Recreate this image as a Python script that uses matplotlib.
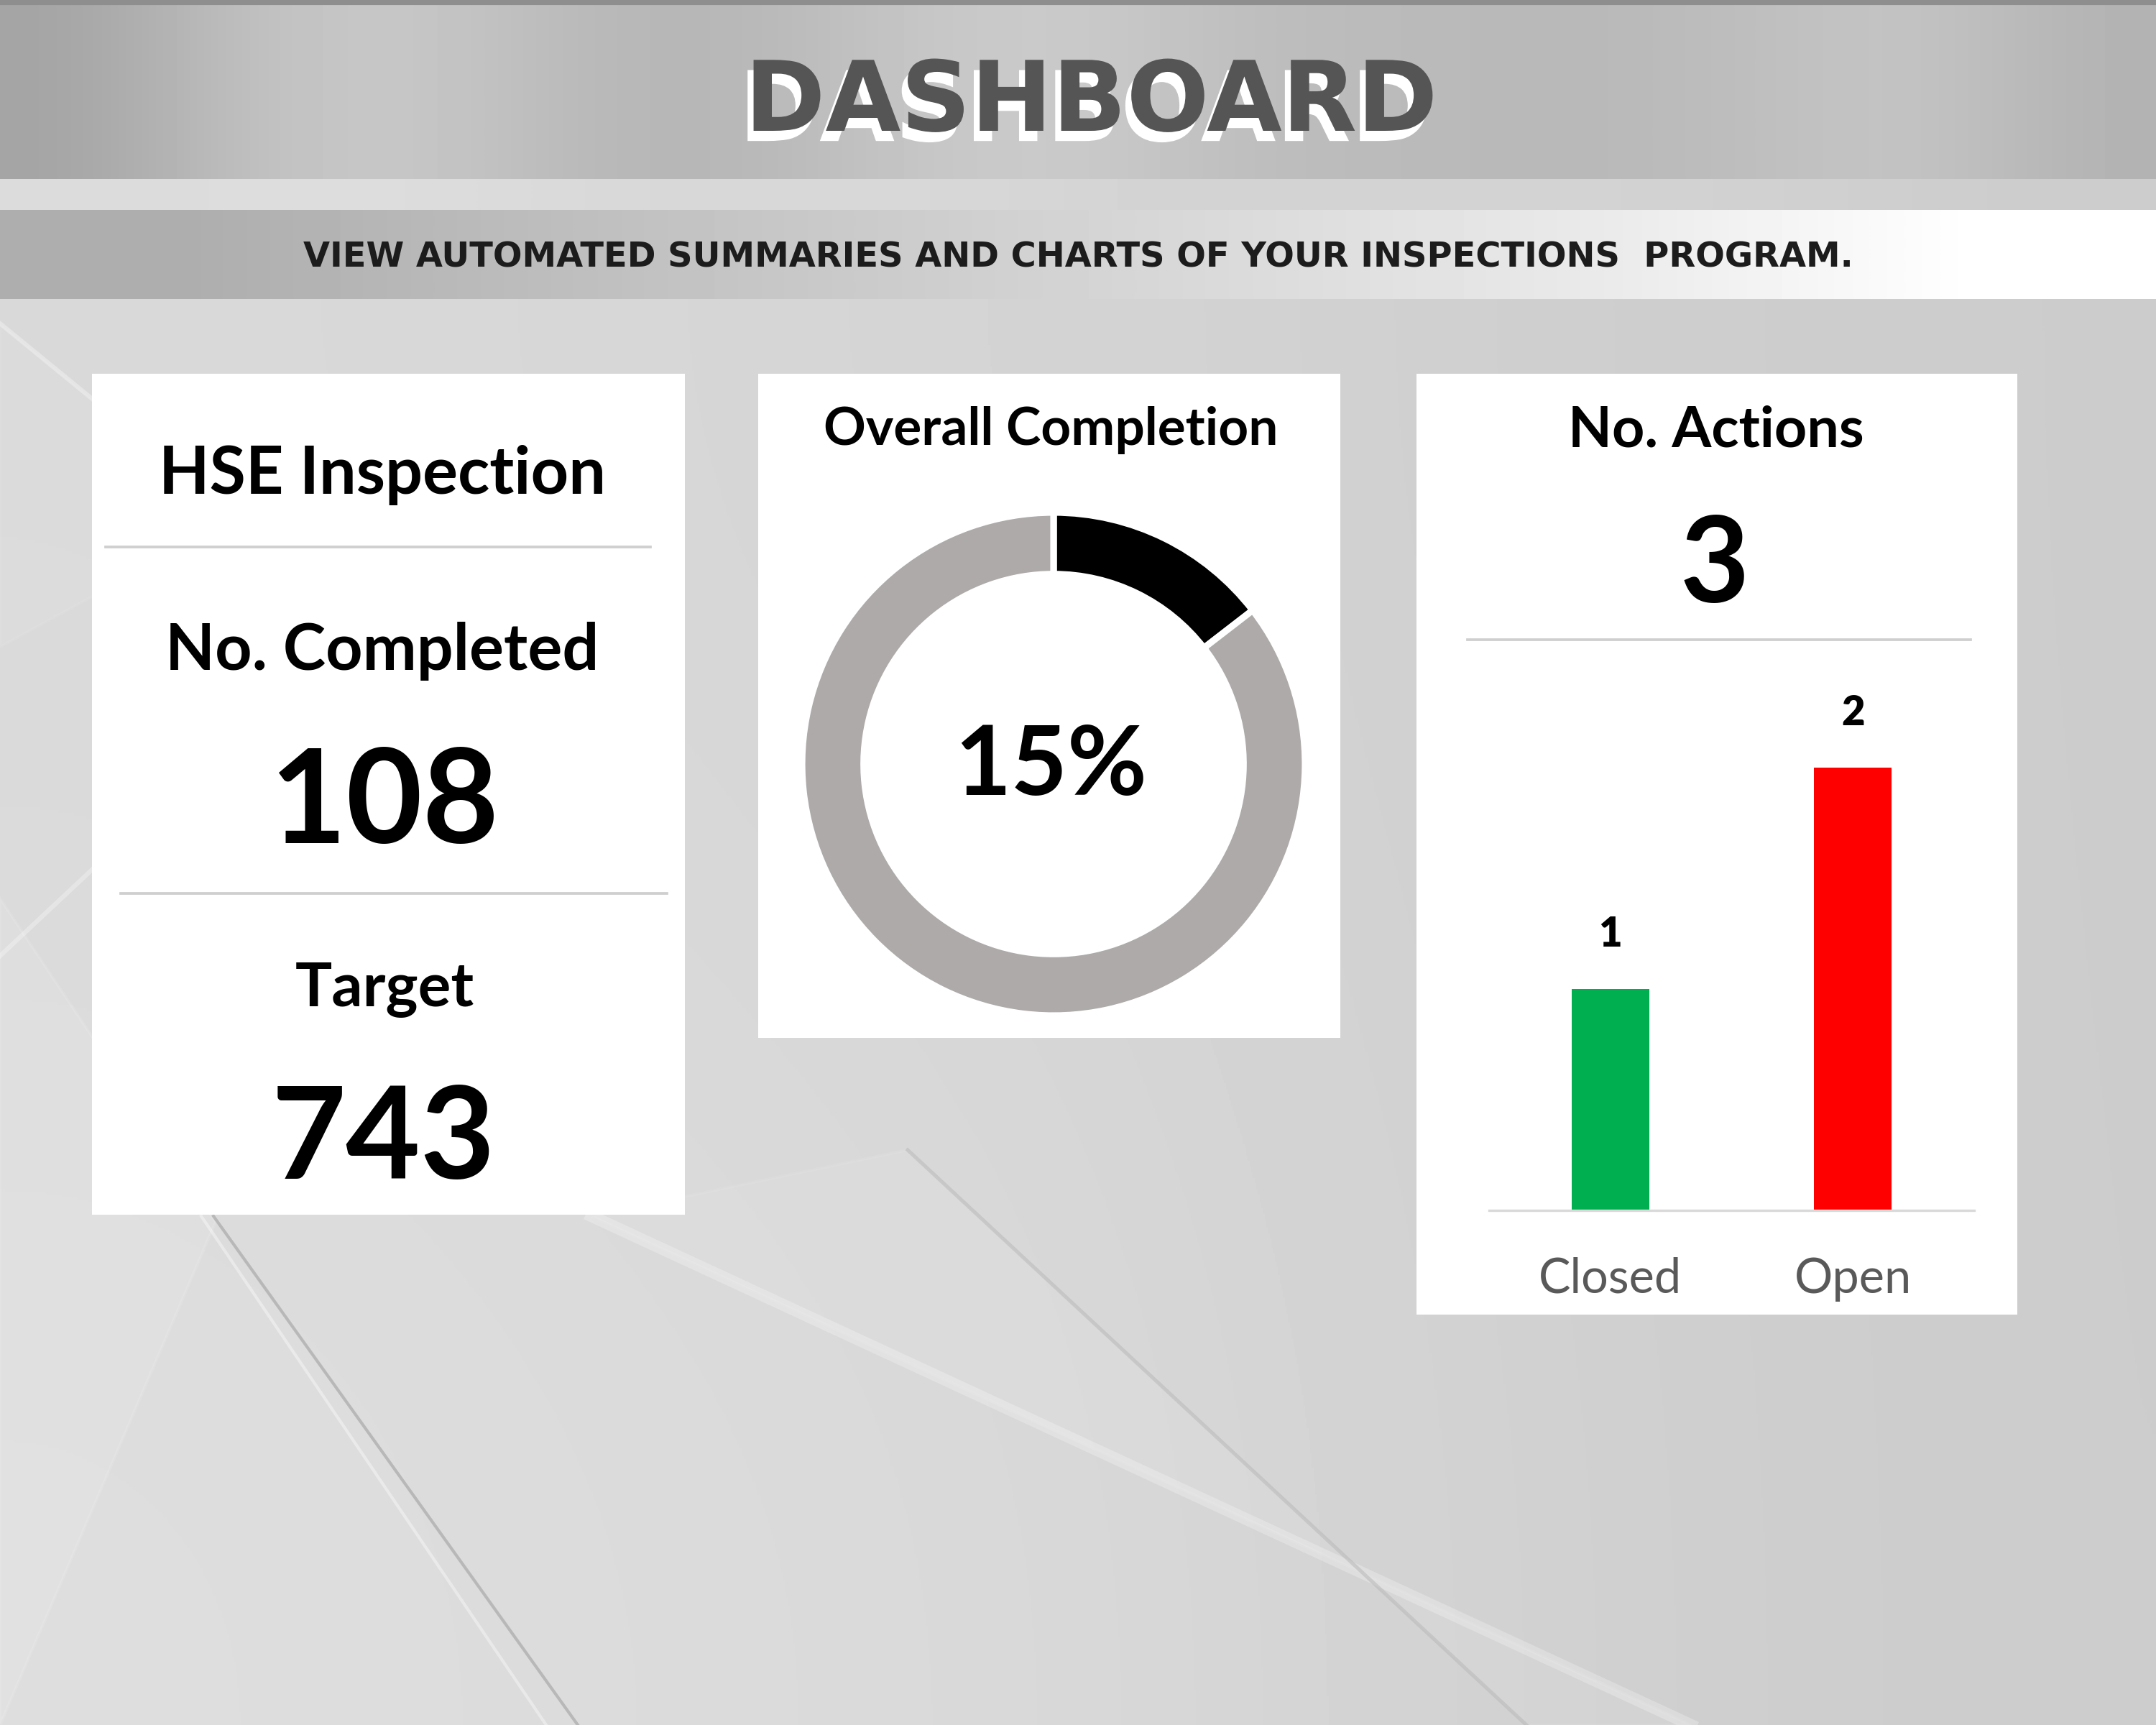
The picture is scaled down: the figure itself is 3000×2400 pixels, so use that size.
import os

os.environ.setdefault("MPLBACKEND", "Agg")

import numpy as np
import matplotlib.pyplot as plt
import matplotlib.patheffects as pe
from matplotlib.patches import Rectangle

# canvas in pixels (figure is 10x8 in at 300 dpi)
W, H = 3000, 2400

# ---- data -------------------------------------------------------------
title = "DASHBOARD"
subtitle = "VIEW AUTOMATED SUMMARIES AND CHARTS OF YOUR INSPECTIONS  PROGRAM."
kpi_heading = "HSE Inspection"
completed_label = "No. Completed"
target_label = "Target"
completed = 108
target = 743
donut_title = "Overall Completion"
actions_title = "No. Actions"
action_status = ["Closed", "Open"]
action_counts = [1, 2]
action_colors = ["#00B050", "#FF0000"]

# ---- style ------------------------------------------------------------
PANEL_FONT = ["Lato", "DejaVu Sans"]
HEAD_FONT = ["DejaVu Sans"]
DONUT_DONE = "#000000"
DONUT_REST = "#AEAAAA"
RULE = "#cfcfcf"


def px_axes(fig, x0, y0, x1, y1):
    """Axes placed by pixel box (top-left origin)."""
    return fig.add_axes([x0 / W, 1 - y1 / H, (x1 - x0) / W, (y1 - y0) / H])


fig = plt.figure(figsize=(10, 8), dpi=300)
bg = fig.add_axes([0, 0, 1, 1])
bg.set_xlim(0, W)
bg.set_ylim(H, 0)
bg.set_axis_off()

# ---- background -------------------------------------------------------
# main area: soft grey, slightly darker to the right
bg.imshow([[0.85, 0.84, 0.83, 0.81, 0.80], [0.87, 0.86, 0.85, 0.82, 0.80]], cmap="gray",
          vmin=0, vmax=1, extent=(0, W, H, 416), aspect="auto",
          interpolation="bicubic", zorder=0)
# faint diagonal sheets
bg.fill([0, 300, 0], [1250, 1700, 2400], color="white", alpha=0.10, zorder=0.5)
bg.fill([823, 1263, 2124, 2353], [1692, 1600, 2400, 2400], color="white", alpha=0.08, zorder=0.5)
bg.fill([0, 330, 0], [450, 720, 900], color="white", alpha=0.06, zorder=0.5)
bg.plot([297, 804], [1692, 2400], color="#a9a9a9", lw=1.0, alpha=0.7, zorder=0.6)
bg.plot([280, 760], [1692, 2400], color="white", lw=1.0, alpha=0.4, zorder=0.6)
bg.plot([823, 2353], [1692, 2400], color="white", lw=4, alpha=0.25, zorder=0.6)
bg.plot([1263, 2124], [1600, 2400], color="#b4b4b4", lw=1.2, alpha=0.5, zorder=0.6)
bg.plot([0, 330], [450, 720], color="white", lw=1.5, alpha=0.3, zorder=0.6)
bg.plot([0, 128], [1330, 1210], color="white", lw=1.5, alpha=0.3, zorder=0.6)

# top band with soft vertical streaks
bg.imshow([[0.64, 0.76, 0.79, 0.72, 0.71, 0.78, 0.80, 0.74, 0.73, 0.72, 0.74, 0.78, 0.70]],
          cmap="gray", vmin=0, vmax=1, extent=(0, W, 249, 0), aspect="auto",
          interpolation="bicubic", zorder=1)
bg.add_patch(Rectangle((0, 0), W, 5, color="#8e8e8e", zorder=1.1))
# lighter strip
bg.imshow([[0.86, 0.87, 0.84, 0.85, 0.82, 0.83, 0.82, 0.80]], cmap="gray",
          vmin=0, vmax=1, extent=(0, W, 292, 249), aspect="auto",
          interpolation="bicubic", zorder=1)
# subtitle band, grey to white
bg.imshow([[0.68, 0.74, 0.80, 0.86, 0.92, 1.0]], cmap="gray", vmin=0, vmax=1,
          extent=(0, W, 416, 292), aspect="auto", interpolation="bilinear", zorder=1)

# ---- header text ------------------------------------------------------
bg.text(1518, 182, title, ha="center", va="baseline", fontsize=32.5, fontweight="bold",
        family=HEAD_FONT, color="#555555", zorder=3,
        path_effects=[pe.SimplePatchShadow(offset=(-2, -3.4), shadow_rgbFace="white", alpha=1.0),
                      pe.Normal()])
bg.text(1500, 372, subtitle, ha="center", va="baseline", fontsize=11.5, fontweight="bold",
        family=HEAD_FONT, color="#1c1c1c", zorder=3)

# ---- panels -----------------------------------------------------------
for x0, y0, x1, y1 in [(128, 520, 953, 1690), (1055, 520, 1865, 1444), (1971, 520, 2807, 1829)]:
    bg.add_patch(Rectangle((x0, y0), x1 - x0, y1 - y0, facecolor="white",
                           edgecolor="none", zorder=2))

# panel 1: KPI figures
bg.text(532, 687, kpi_heading, ha="center", va="baseline", fontsize=22,
        fontweight="bold", family=PANEL_FONT, color="black", zorder=3)
bg.plot([147, 905], [761, 761], color=RULE, lw=0.9, zorder=3)
bg.text(532, 932, completed_label, ha="center", va="baseline", fontsize=21.5,
        fontweight="bold", family=PANEL_FONT, color="black", zorder=3)
bg.text(535, 1173, f"{completed}", ha="center", va="baseline", fontsize=44,
        fontweight="bold", family=PANEL_FONT, color="black", zorder=3)
bg.plot([168, 928], [1243, 1243], color=RULE, lw=0.9, zorder=3)
bg.text(535, 1399, target_label, ha="center", va="baseline", fontsize=20.5,
        fontweight="bold", family=PANEL_FONT, color="black", zorder=3)
bg.text(533, 1640, f"{target}", ha="center", va="baseline", fontsize=43,
        fontweight="bold", family=PANEL_FONT, color="black", zorder=3)

# panel 2: completion donut
bg.text(1462, 619, donut_title, ha="center", va="baseline", fontsize=17.5,
        fontweight="bold", family=PANEL_FONT, color="black", zorder=3)
r_px = 350
ax_d = px_axes(fig, 1466 - r_px, 1063 - r_px, 1466 + r_px, 1063 + r_px)
ax_d.pie([completed, target - completed], colors=[DONUT_DONE, DONUT_REST],
         startangle=90, counterclock=False, radius=1.0,
         wedgeprops=dict(width=0.245, edgecolor="white", linewidth=2.2))
ax_d.set_xlim(-1, 1)
ax_d.set_ylim(-1, 1)
ax_d.set_aspect("equal")
ax_d.set_axis_off()
pct = round(100 * completed / target)
bg.text(1462, 1106, f"{pct}%", ha="center", va="baseline", fontsize=32.5,
        fontweight="bold", family=PANEL_FONT, color="black", zorder=3)

# panel 3: actions bar chart
bg.text(2388, 621, actions_title, ha="center", va="baseline", fontsize=19,
        fontweight="bold", family=PANEL_FONT, color="black", zorder=3)
bg.text(2386, 838, f"{sum(action_counts)}", ha="center", va="baseline", fontsize=40,
        fontweight="bold", family=PANEL_FONT, color="black", zorder=3)
bg.plot([2042, 2742], [890, 890], color=RULE, lw=0.9, zorder=3)

unit_px = 308
ax_b = px_axes(fig, 2072, 1684 - 2.4 * unit_px, 2747, 1684)
xs = np.arange(len(action_status))
ax_b.bar(xs, action_counts, width=0.32, color=action_colors, zorder=2)
for x, v in zip(xs, action_counts):
    ax_b.text(x, v + 0.19, f"{v}", ha="center", va="baseline", fontsize=13.5,
              fontweight="heavy", family=PANEL_FONT, color="black")
ax_b.set_xlim(-0.5, 1.5)
ax_b.set_ylim(0, 2.4)
ax_b.set_xticks(xs, action_status)
ax_b.set_yticks([])
ax_b.tick_params(axis="x", length=0, pad=15.5, labelsize=16, labelcolor="#595959")
for lab in ax_b.get_xticklabels():
    lab.set_family(PANEL_FONT)
for side in ["top", "left", "right"]:
    ax_b.spines[side].set_visible(False)
ax_b.spines["bottom"].set_color("#d9d9d9")
ax_b.spines["bottom"].set_linewidth(0.8)
ax_b.patch.set_visible(False)

fig.savefig("out.png", dpi=300)
plt.close(fig)
